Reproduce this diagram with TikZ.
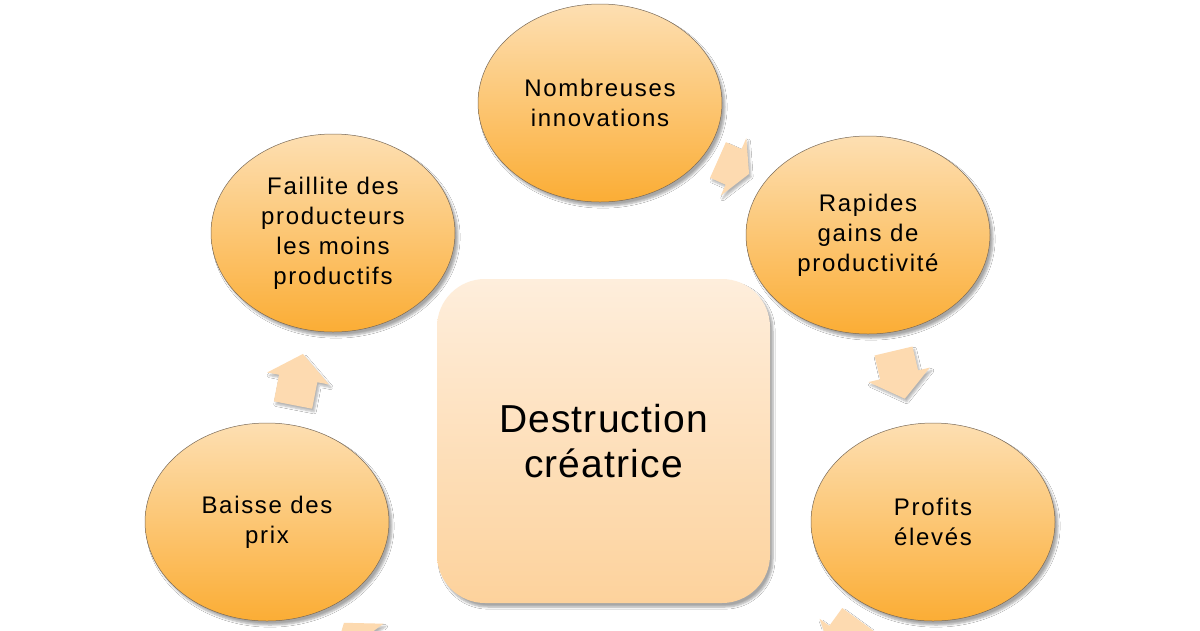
\documentclass[tikz,border=0pt]{standalone}
\usepackage{fontspec}
\setmainfont{Liberation Sans}
\newfontfamily\nodefont[LetterSpace=7]{Liberation Sans}
\newfontfamily\bigfont[LetterSpace=3]{Liberation Sans}
\usetikzlibrary{shapes.geometric,shadows.blur}
\definecolor{ovtop}{HTML}{FDDFB2}
\definecolor{ovbot}{HTML}{FBAD35}
\definecolor{ovline}{HTML}{7A6A58}
\definecolor{bxtop}{HTML}{FEEEDC}
\definecolor{bxbot}{HTML}{FDD29C}
\definecolor{arrfill}{HTML}{FDDAB0}
\tikzset{
  cycnode/.style={ellipse, draw=ovline, line width=0.5pt,
    top color=ovtop, bottom color=ovbot,
    minimum width=244pt, minimum height=198pt, inner sep=0pt,
    align=center, text=black,
    font=\nodefont\fontsize{24}{30}\selectfont,
    blur shadow={shadow xshift=3pt, shadow yshift=-4pt, shadow blur steps=6, shadow opacity=35}},
  centerbox/.style={rectangle, rounded corners=48pt,
    top color=bxtop, bottom color=bxbot, draw=none,
    minimum width=333pt, minimum height=324pt, inner sep=0pt,
    align=center, text=black,
    font=\bigfont\fontsize{39}{45}\selectfont,
    blur shadow={shadow xshift=3pt, shadow yshift=-4pt, shadow blur steps=6, shadow opacity=35}},
  arrowfill/.style={fill=arrfill, draw=none,
    blur shadow={shadow xshift=2pt, shadow yshift=-3pt, shadow blur steps=5, shadow opacity=30}}
}
\newcommand\cycarrow[5]{%
  \begin{scope}[shift={(#1,#2)}, rotate=#3]
    \path[arrowfill] (0,-19.5) -- (#4,-19.5) -- (#4,-31.5) -- ({#4+#5},0)
      -- (#4,31.5) -- (#4,19.5) -- (0,19.5) -- cycle;
  \end{scope}}
\begin{document}
\begin{tikzpicture}[x=1pt,y=-1pt]
\useasboundingbox[fill=white] (0,0) rectangle (1200,630);
\begin{scope}
\clip (0,0) rectangle (1200,630);
% central box
\node[centerbox] (center) at (603.5,441) {Destruction\\créatrice};
% cycle nodes
\node[cycnode] (innov) at (600,103) {Nombreuses\\innovations};
\node[cycnode] (gains) at (868,235) {Rapides\\gains de\\productivité};
\node[cycnode] (profits) at (933,522) {Profits\\élevés};
\node[cycnode] (baisse) at (267,522) {Baisse des\\prix};
\node[cycnode] (faillite) at (333,233) {Faillite des\\producteurs\\les moins\\productifs};
% block arrows
\cycarrow{718}{160}{-24}{17}{17}
\cycarrow{893.5}{351}{-76.7}{24.5}{24.5}
\cycarrow{293}{405}{79}{27}{25}
\cycarrow{858}{619.5}{-126}{22}{22}
\cycarrow{371}{660}{126}{22}{24}
\end{scope}
\end{tikzpicture}
\end{document}
